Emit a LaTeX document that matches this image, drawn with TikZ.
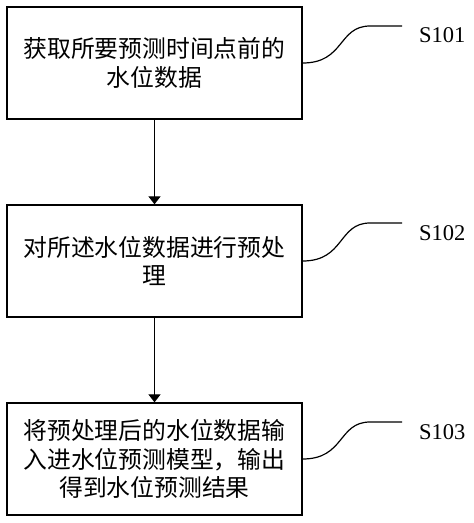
\documentclass[tikz,border=0pt]{standalone}
\usepackage{fontspec}
\setmainfont{Liberation Serif}
\newfontfamily\cjk{Noto Sans CJK SC}
\usetikzlibrary{arrows.meta}
\begin{document}
\begin{tikzpicture}[x=1pt,y=-1pt,
  stepbox/.style={draw,line width=1.3pt,minimum width=295pt,minimum height=112pt,inner sep=0pt,
    align=center,font=\cjk\fontsize{23.8}{28.5}\selectfont},
  flow/.style={line width=1.2pt,-{Triangle[width=12pt,length=8pt]}},
  wave/.style={line width=1.2pt},
  steplabel/.style={anchor=west,inner sep=0pt,font=\fontsize{22.5}{26}\selectfont}]
\useasboundingbox (0,0) rectangle (474,523);
\node[stepbox] (b1) at (154.5,63) {获取所要预测时间点前的\\水位数据};
\node[stepbox] (b2) at (154.5,261) {对所述水位数据进行预处\\理};
\node[stepbox] (b3) at (154.5,459) {将预处理后的水位数据输\\入进水位预测模型，输出\\得到水位预测结果};
\draw[flow] (b1) -- (b2);
\draw[flow] (b2) -- (b3);
\foreach \i/\y/\yy in {1/26/35,2/223/233,3/422/432}{
  \coordinate (m\i) at (370,\y);
  \coordinate (e\i) at (402,\y);
  \node[steplabel] (s\i) at (419,\yy) {S10\i};
}
\foreach \i in {1,2,3}{
  \draw[wave] (b\i.east) .. controls +(42,0) and +(-32,0) .. (m\i) -- (e\i);
}
\end{tikzpicture}
\end{document}
